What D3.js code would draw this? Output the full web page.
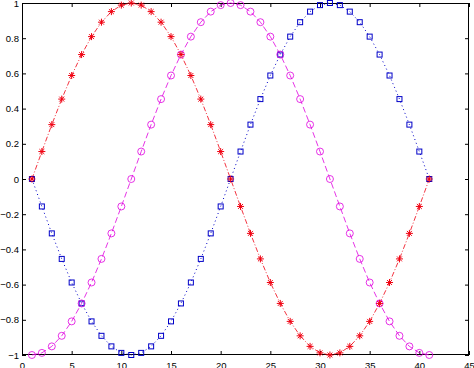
<!DOCTYPE html>
<html><head><meta charset="utf-8">
<script src="https://cdn.jsdelivr.net/npm/d3@7"></script>
<style>html,body{margin:0;padding:0;background:#fff;overflow:hidden}</style>
</head><body>
<svg id="c" width="474" height="368"></svg>
<script>
const xs = [1,2,3,4,5,6,7,8,9,10,11,12,13,14,15,16,17,18,19,20,21,22,23,24,25,26,27,28,29,30,31,32,33,34,35,36,37,38,39,40,41];
const redVals = [0,0.156,0.309,0.454,0.588,0.707,0.809,0.891,0.951,0.988,1,0.988,0.951,0.891,0.809,0.707,0.588,0.454,0.309,0.156,0,-0.156,-0.309,-0.454,-0.588,-0.707,-0.809,-0.891,-0.951,-0.988,-1,-0.988,-0.951,-0.891,-0.809,-0.707,-0.588,-0.454,-0.309,-0.156,0];
const magentaVals = [-1,-0.988,-0.951,-0.891,-0.809,-0.707,-0.588,-0.454,-0.309,-0.156,0,0.156,0.309,0.454,0.588,0.707,0.809,0.891,0.951,0.988,1,0.988,0.951,0.891,0.809,0.707,0.588,0.454,0.309,0.156,0,-0.156,-0.309,-0.454,-0.588,-0.707,-0.809,-0.891,-0.951,-0.988,-1];
const blueVals = [0,-0.156,-0.309,-0.454,-0.588,-0.707,-0.809,-0.891,-0.951,-0.988,-1,-0.988,-0.951,-0.891,-0.809,-0.707,-0.588,-0.454,-0.309,-0.156,0,0.156,0.309,0.454,0.588,0.707,0.809,0.891,0.951,0.988,1,0.988,0.951,0.891,0.809,0.707,0.588,0.454,0.309,0.156,0];
const xTicks = [0,5,10,15,20,25,30,35,40,45];
const yTicks = [-1,-0.8,-0.6,-0.4,-0.2,0,0.2,0.4,0.6,0.8,1];
const yTickLabels = ["\u22121","\u22120.8","\u22120.6","\u22120.4","\u22120.2","0","0.2","0.4","0.6","0.8","1"];

const L=22, R=469, T=3, B=355;
const svg = d3.select("#c");
const x = d3.scaleLinear().domain([0,45]).range([L,R]);
const y = d3.scaleLinear().domain([-1,1]).range([B,T]);

const font = "Liberation Sans, Arial, Helvetica, sans-serif";
function styleAxis(g){
  g.select(".domain").remove();
  g.selectAll("line").attr("stroke","#000").attr("stroke-width",1);
  g.selectAll("text").attr("font-family",font).attr("font-size","9.5px").attr("fill","#000");
}
svg.append("g").attr("transform",`translate(0,${B})`)
  .call(d3.axisBottom(x).tickValues(xTicks).tickSizeInner(-4).tickSizeOuter(0).tickPadding(7).tickFormat(d=>d))
  .call(styleAxis);
svg.append("g").attr("transform",`translate(0,${T})`)
  .call(d3.axisTop(x).tickValues(xTicks).tickSizeInner(-4).tickSizeOuter(0).tickFormat(""))
  .call(styleAxis);
svg.append("g").attr("transform",`translate(${L},0)`)
  .call(d3.axisLeft(y).tickValues(yTicks).tickSizeInner(-4).tickSizeOuter(0).tickPadding(3).tickFormat((d,i)=>yTickLabels[i]))
  .call(styleAxis);
svg.append("g").attr("transform",`translate(${R},0)`)
  .call(d3.axisRight(y).tickValues(yTicks).tickSizeInner(-4).tickSizeOuter(0).tickFormat(""))
  .call(styleAxis);
svg.append("rect").attr("x",L+0.5).attr("y",T+0.5).attr("width",R-L-1).attr("height",B-T-1)
  .attr("fill","none").attr("stroke","#000").attr("stroke-width",1);

const line = vals => d3.line().x((d,i)=>x(xs[i])).y(d=>y(d))(vals);
const red="#f00010", mag="#e000e0", blue="#0000c8";
svg.append("path").attr("d",line(redVals)).attr("fill","none").attr("stroke",red).attr("stroke-width",0.8).attr("stroke-dasharray","5,2,1,2");
svg.append("path").attr("d",line(magentaVals)).attr("fill","none").attr("stroke",mag).attr("stroke-width",0.8).attr("stroke-dasharray","6,3");
svg.append("path").attr("d",line(blueVals)).attr("fill","none").attr("stroke",blue).attr("stroke-width",1).attr("stroke-dasharray","1,3");

// markers
svg.append("g").selectAll("rect").data(blueVals).join("rect")
  .attr("x",(d,i)=>x(xs[i])-2.5).attr("y",d=>y(d)-2.5).attr("width",5).attr("height",5)
  .attr("fill","none").attr("stroke",blue).attr("stroke-width",1);
svg.append("g").selectAll("circle").data(magentaVals).join("circle")
  .attr("cx",(d,i)=>x(xs[i])).attr("cy",d=>y(d)).attr("r",3.5)
  .attr("fill","none").attr("stroke",mag).attr("stroke-width",0.8);
const gs = svg.append("g");
redVals.forEach((d,i)=>{
  const cx=x(xs[i]), cy=y(d), s=3.5, s2=s*0.7;
  const g=gs.append("g").attr("transform",`translate(${cx},${cy})`).attr("stroke",red).attr("stroke-width",1);
  g.append("line").attr("x1",-s).attr("x2",s).attr("y1",0).attr("y2",0);
  g.append("line").attr("x1",0).attr("x2",0).attr("y1",-s).attr("y2",s);
  g.append("line").attr("x1",-s2).attr("x2",s2).attr("y1",-s2).attr("y2",s2);
  g.append("line").attr("x1",-s2).attr("x2",s2).attr("y1",s2).attr("y2",-s2);
});
</script>
</body></html>
